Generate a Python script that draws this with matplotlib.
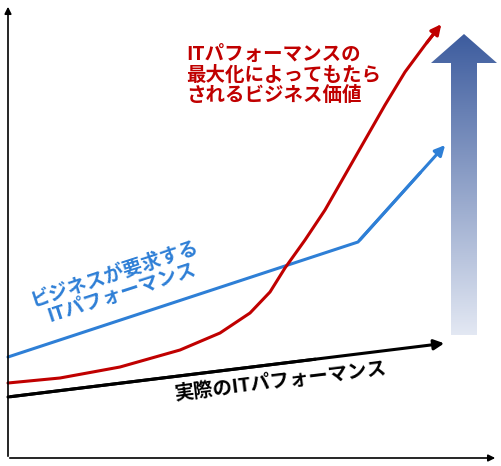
import matplotlib.pyplot as plt
import numpy as np
from matplotlib.patches import Polygon
from matplotlib.colors import LinearSegmentedColormap

plt.rcParams['font.family'] = ['Noto Sans CJK JP', 'DejaVu Sans']

# pixel-space points
actual_x = [8, 447]
actual_y = [397, 343]
demand_x = [8, 358, 447]
demand_y = [357, 242, 143]
value_x = [8, 60, 120, 180, 220, 250, 270, 285, 305, 325, 345, 365, 385, 405, 425, 443]
value_y = [383, 378, 367, 350, 333, 313, 292, 268, 240, 210, 175, 140, 105, 72, 45, 22]

fig = plt.figure(figsize=(5.02, 4.66), dpi=100)
ax = fig.add_axes([0, 0, 1, 1])
ax.axis('off')

# axes
ax.annotate('', xy=(8, 4), xytext=(8, 459),
            arrowprops=dict(arrowstyle='-|>', color='black', lw=1.2))
ax.annotate('', xy=(498, 458), xytext=(7, 458),
            arrowprops=dict(arrowstyle='-|>', color='black', lw=1.2))

def line_arrow(xs, ys, color):
    ax.plot(xs[:-1] + [xs[-1] - (xs[-1] - xs[-2]) * 0.3], ys[:-1] + [ys[-1] - (ys[-1] - ys[-2]) * 0.3],
            color=color, lw=2.2, solid_capstyle='round', solid_joinstyle='round')
    ax.annotate('', xy=(xs[-1], ys[-1]), xytext=(xs[-2], ys[-2]),
                arrowprops=dict(arrowstyle='-|>,head_length=0.6,head_width=0.3', color=color, lw=2.2))

line_arrow(actual_x, actual_y, 'black')
line_arrow(demand_x, demand_y, '#2e7fd6')
line_arrow(value_x, value_y, '#c00000')

# gradient arrow
grad = np.linspace(0, 1, 256).reshape(-1, 1)
cmap = LinearSegmentedColormap.from_list('g', ['#3d5c9e', '#e3e8f3'])
shape = Polygon([(451, 335), (451, 63), (431, 63), (464, 34), (497, 63), (477, 63), (477, 335)],
                closed=True, facecolor='none', edgecolor='none')
ax.add_patch(shape)
im = ax.imshow(grad, cmap=cmap, extent=(430, 498, 335, 34), aspect='auto', zorder=2)
im.set_clip_path(shape)
ax.set_xlim(0, 502)
ax.set_ylim(466, 0)

ax.text(186, 75, 'ITパフォーマンスの\n最大化によってもたら\nされるビジネス価値',
        color='#c00000', fontsize=14, fontweight='bold', va='center', ha='left', linespacing=1.1)
ax.text(118, 283, 'ビジネスが要求する\nITパフォーマンス', color='#2e7fd6', fontsize=14,
        fontweight='bold', rotation=18, ha='center', va='center', rotation_mode='anchor', linespacing=1.1)
ax.text(280, 381, '実際のITパフォーマンス', color='black', fontsize=14,
        fontweight='bold', rotation=7, ha='center', va='center', rotation_mode='anchor')

fig.savefig('out.png', dpi=100)
